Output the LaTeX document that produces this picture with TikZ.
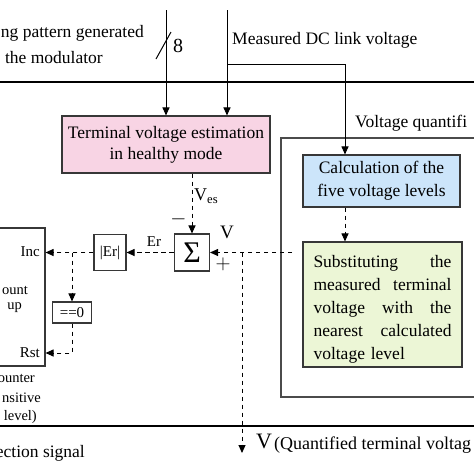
\documentclass[tikz,border=0pt]{standalone}
\usepackage{fontspec}
\setmainfont{Liberation Serif}
\usetikzlibrary{arrows.meta,positioning,calc}
\definecolor{pinkfill}{RGB}{248,212,228}
\definecolor{bluefill}{RGB}{204,229,250}
\definecolor{greenfill}{RGB}{236,246,214}
\definecolor{edge}{RGB}{55,55,55}
\newcommand{\jline}[1]{\leavevmode\hbox to 138pt{#1}}
\begin{document}
\begin{tikzpicture}[x=1pt,y=-1pt,
  box/.style={draw=edge,line width=1.1pt,inner sep=0pt,align=center},
  arr/.style={-{Triangle[length=8pt,width=7pt]}},
  dsh/.style={dash pattern=on 4.5pt off 3.5pt,line width=1pt},
  big/.style={font=\fontsize{17.5}{21}\selectfont},
  mid/.style={font=\fontsize{15}{18}\selectfont},
  sml/.style={font=\fontsize{14.5}{17}\selectfont},
  lbl/.style={inner sep=0pt}]
\useasboundingbox (0,0) rectangle (474,474);
\clip (0,0) rectangle (474,474);
\fill[white] (0,0) rectangle (474,474);

% separator lines
\draw[line width=1.4pt] (-5,82) coordinate (l1a) -- (480,82) coordinate (l1b);
\draw[line width=1.4pt] (-5,426) coordinate (l2a) -- (480,426) coordinate (l2b);

% boxes
\node[box,fill=pinkfill,minimum width=208pt,minimum height=57pt,font=\fontsize{17.5}{21}\selectfont] (est) at (166,144.5) {Terminal voltage estimation\\in healthy mode};
\draw[draw=edge!90,line width=1.2pt] (490,138) -- (281,138) -- (281,397) -- (490,397);
\node[box,fill=bluefill,minimum width=157pt,minimum height=52pt,font=\fontsize{17.5}{23}\selectfont] (calc) at (381.5,181) {Calculation of the\\five voltage levels};
\node[box,fill=greenfill,minimum width=159pt,minimum height=125pt] (subs) at (382.5,304.5) {};
\node[lbl,align=left,text width=138pt,font=\fontsize{17.5}{23}\selectfont] (subst) at (382.5,309)
 {\jline{Substituting\hfill the}\\\jline{measured\hfill terminal}\\\jline{voltage\hfill with\hfill the}\\\jline{nearest\hfill calculated}\\voltage level};
\node[box,minimum width=35pt,minimum height=37pt,font=\fontsize{30}{30}\selectfont] (sum) at (192,252.5) {Σ};
\node[box,minimum width=32pt,minimum height=36pt,mid] (abs) at (110,252.5) {|Er|};
\node[box,minimum width=39pt,minimum height=21pt,mid] (zero) at (72,312.5) {==0};
\node[box,minimum width=70pt,minimum height=138pt] (cnt) at (10,297) {};

% inputs
\coordinate (in1) at (166,10);
\coordinate (in2) at (227,10);
\draw[line width=1pt,arr] (in1) -- (in1 |- est.north);
\draw[line width=1pt,arr] (in2) -- (in2 |- est.north);
\coordinate (br) at (227,64);
\coordinate (brc) at (345,64);
\draw[line width=1pt,arr] (br) -- (brc) -- (brc |- calc.north);
\coordinate (sl1) at (156,59);
\coordinate (sl2) at (171,32);
\draw[line width=1pt] (sl1) -- (sl2);
\node[lbl,font=\fontsize{20}{20}\selectfont] (eight) at (178,46) {8};

% dashed signals
\draw[dsh,arr] (est.south -| sum.north) -- (sum.north);
\draw[dsh,arr] (calc.south -| brc) -- (subs.north -| brc);
\coordinate (vin) at (292,252.5);
\coordinate (vdown) at (242,252.5);
\coordinate (vout) at (242,453);
\draw[dsh,arr] (vin) -- (sum.east);
\draw[dsh,arr] (vdown) -- (vout);
\draw[dsh,arr] (sum.west) -- (abs.east);
\draw[dsh,arr] (abs.west) -- (abs.west -| cnt.east);
\coordinate (bz) at (72,252.5);
\draw[dsh,arr] (bz) -- (zero.north);
\coordinate (rst) at (72,353);
\draw[dsh,arr] (zero.south) -- (rst) -- (rst -| cnt.east);

% labels
\node[lbl,anchor=east,big] (t1) at (144,33) {ng pattern generated};
\node[lbl,anchor=east,big] (t2) at (103,58) {the modulator};
\node[lbl,anchor=west,big] (t3) at (232,40) {Measured DC link voltage};
\node[lbl,anchor=west,big] (t4) at (355,123) {Voltage quantifi};
\node[lbl,anchor=west,font=\fontsize{18}{18}\selectfont] (ves) at (194,196) {V\textsubscript{es}};
\node[lbl,font=\fontsize{20}{20}\selectfont] (minus) at (178.5,219) {$-$};
\node[lbl,font=\fontsize{20}{20}\selectfont] (plus) at (223,264) {$+$};
\node[lbl,font=\fontsize{19}{19}\selectfont] (vv) at (227,232) {V};
\node[lbl,mid] (er) at (154,242) {Er};
\node[lbl,anchor=east,font=\fontsize{15}{18}\selectfont] (inc) at (40,252) {Inc};
\node[lbl,anchor=east,font=\fontsize{15}{18}\selectfont] (rs) at (40,353) {Rst};
\node[lbl,anchor=east,sml] (c1) at (28,290) {ount};
\node[lbl,sml] (c2) at (14.5,308) {up};
\node[lbl,anchor=east,sml] (c3) at (35,378) {ounter};
\node[lbl,anchor=east,sml] (c4) at (41,398) {nsitive};
\node[lbl,anchor=east,sml] (c5) at (37,417) {level)};
\node[lbl,anchor=east,big] (det) at (85,453) {ection signal};
\node[lbl,anchor=west,font=\fontsize{22}{22}\selectfont] (vq) at (256,441) {V};
\node[lbl,anchor=west,font=\fontsize{18}{18}\selectfont] (vq2) at (274,445) {(Quantified terminal voltag};
\end{tikzpicture}
\end{document}
